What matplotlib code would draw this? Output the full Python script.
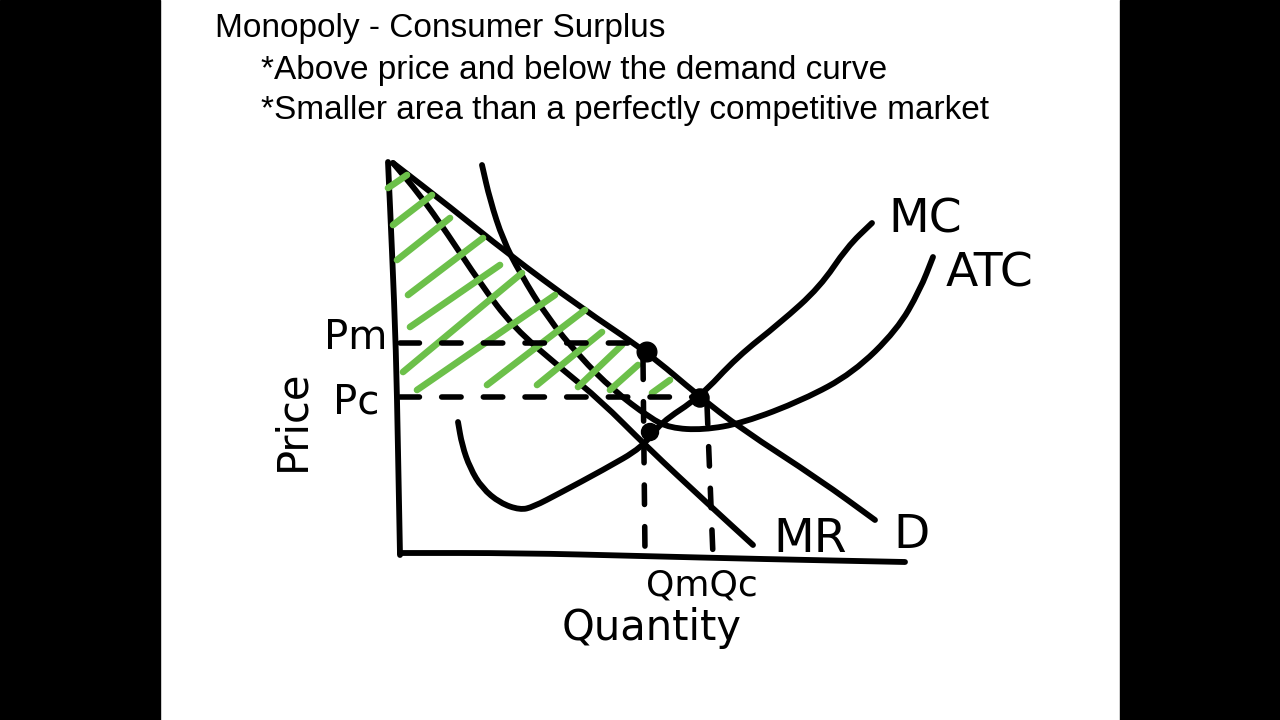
import matplotlib
matplotlib.use('Agg')
import matplotlib.pyplot as plt
from matplotlib.path import Path
from matplotlib.patches import PathPatch
import numpy as np

# -------------------------------------------------------------------
# curves (screen pixels, y grows downward)
axis_y_x = [388, 392, 396, 398, 400]
axis_y_y = [162, 250, 350, 450, 555]
axis_x_x = [400, 520, 640, 760, 905]
axis_x_y = [553, 553, 556, 559, 562]

demand_x = [393, 450, 507, 580, 647, 700, 740, 820, 875]
demand_y = [163, 207, 253, 307, 352, 397, 428, 480, 520]

mr_x = [393, 420, 447, 480, 513, 563, 600, 647, 707, 753]
mr_y = [163, 195, 233, 283, 327, 370, 400, 447, 503, 545]

mc_x = [458, 462, 470, 482, 500, 520, 533, 560, 603, 643, 660, 700, 737, 780, 820, 847, 872]
mc_y = [422, 445, 468, 488, 503, 510, 507, 493, 470, 447, 423, 397, 357, 323, 287, 247, 223]

atc_x = [482, 490, 503, 520, 547, 580, 613, 650, 670, 703, 743, 803, 853, 897, 920, 933]
atc_y = [165, 200, 240, 273, 317, 357, 390, 418, 428, 430, 423, 400, 373, 330, 290, 257]

# consumer surplus hatching: (x0, y0, x1, y1)
hatch = [
    (388, 188, 407, 175), (393, 225, 432, 195), (397, 260, 450, 218),
    (408, 295, 483, 238), (410, 327, 500, 265), (403, 372, 522, 273),
    (417, 390, 555, 295), (487, 385, 585, 310), (537, 385, 602, 332),
    (578, 387, 622, 345), (610, 390, 638, 365), (652, 393, 670, 380),
]

p_m, p_c = 343, 397          # price levels
q_m, q_c = 643, 707          # quantity levels
dots_x = [647, 700, 650]
dots_y = [352, 398, 432]

title = "Monopoly - Consumer Surplus"
bullets = ["*Above price and below the demand curve",
           "*Smaller area than a perfectly competitive market"]


# -------------------------------------------------------------------
def smooth_curve(ax, xs, ys, lw=4.2):
    '''
    draw a rounded stroke through the sketched points
    (quadratic bezier between segment midpoints)
    '''
    pts = list(zip(xs, ys))
    verts = [pts[0]]
    codes = [Path.MOVETO]
    if len(pts) > 2:
        mid = ((pts[0][0] + pts[1][0]) / 2, (pts[0][1] + pts[1][1]) / 2)
        verts.append(mid)
        codes.append(Path.LINETO)
        for i in range(1, len(pts) - 1):
            nxt = ((pts[i][0] + pts[i + 1][0]) / 2,
                   (pts[i][1] + pts[i + 1][1]) / 2)
            verts += [pts[i], nxt]
            codes += [Path.CURVE3, Path.CURVE3]
    verts.append(pts[-1])
    codes.append(Path.LINETO)
    ax.add_patch(PathPatch(Path(verts, codes), fill=False, edgecolor='black',
                           lw=lw, capstyle='round', joinstyle='round'))


fig = plt.figure(figsize=(12.8, 7.2), dpi=100)
ax = fig.add_axes([0, 0, 1, 1])
ax.set_xlim(0, 1280)
ax.set_ylim(720, 0)
ax.axis('off')

# black side bars
ax.add_patch(plt.Rectangle((0, 0), 160, 720, color='black'))
ax.add_patch(plt.Rectangle((1120, 0), 160, 720, color='black'))

# text at the top
ax.text(215, 29, title, fontsize=24, family='Liberation Sans', va='center')
for i, b in enumerate(bullets):
    ax.text(261, 70 + 40 * i, b, fontsize=24, family='Liberation Sans',
            va='center')

green = '#6cc04a'
for x0, y0, x1, y1 in hatch:
    ax.plot([x0, x1], [y0, y1], color=green, lw=4.8, solid_capstyle='round')

smooth_curve(ax, axis_y_x, axis_y_y)
smooth_curve(ax, axis_x_x, axis_x_y)
smooth_curve(ax, demand_x, demand_y)
smooth_curve(ax, mr_x, mr_y)
smooth_curve(ax, mc_x, mc_y)
smooth_curve(ax, atc_x, atc_y)

# dashed guides
dkw = dict(color='black', lw=4, dashes=(3.5, 4), dash_capstyle='round')
ax.plot([400, 645], [p_m, p_m], **dkw)
ax.plot([400, 700], [p_c, p_c], **dkw)
ax.plot([q_m, q_m + 2], [360, 553], **dkw)
ax.plot([q_c, q_c + 6], [405, 556], **dkw)

ax.scatter(dots_x, dots_y, s=[200, 170, 150], color='black', zorder=5)

# hand labels
lab = dict(fontsize=34, family='DejaVu Sans', va='center', ha='center')
ax.text(925, 220, "MC", **lab)
ax.text(990, 274, "ATC", **lab)
ax.text(810, 540, "MR", **lab)
ax.text(912, 535, "D", **lab)
ax.text(356, 338, "Pm", fontsize=29, family='DejaVu Sans',
        va='center', ha='center')
ax.text(356, 403, "Pc", fontsize=29, family='DejaVu Sans',
        va='center', ha='center')
ax.text(702, 586, "QmQc", fontsize=26, family='DejaVu Sans',
        va='center', ha='center')
ax.text(652, 628, "Quantity", fontsize=30, family='DejaVu Sans',
        va='center', ha='center')
ax.text(292, 420, "Price", fontsize=30, family='DejaVu Sans',
        va='center', ha='center', rotation=90)

fig.savefig('out.png', dpi=100, facecolor='white')
